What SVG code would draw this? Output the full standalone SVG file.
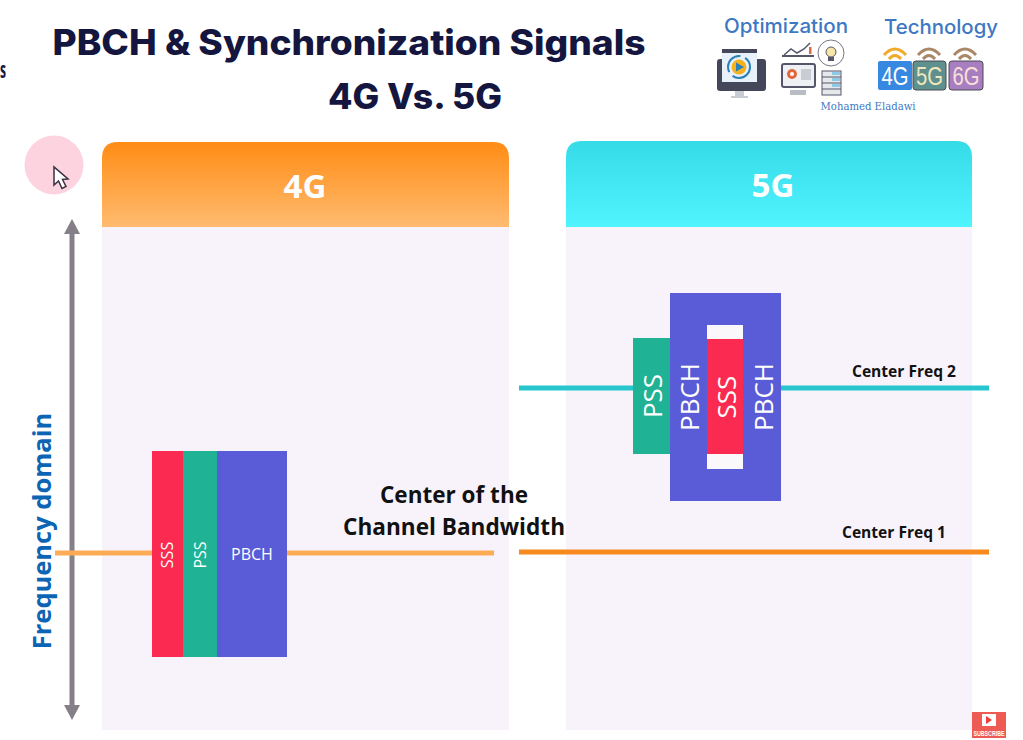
<svg xmlns="http://www.w3.org/2000/svg" width="1023" height="740" viewBox="0 0 1023 740">
<defs>
<linearGradient id="gOrange" x1="0" y1="0" x2="0" y2="1"><stop offset="0" stop-color="#ff8c14"/><stop offset="1" stop-color="#ffbb70"/></linearGradient>
<linearGradient id="gCyan" x1="0" y1="0" x2="0" y2="1"><stop offset="0" stop-color="#36dbe8"/><stop offset="1" stop-color="#4ff4ff"/></linearGradient>
<marker id="arrow" markerUnits="userSpaceOnUse" markerWidth="15" markerHeight="16" refX="1" refY="8" orient="auto-start-reverse"><path d="M0 0 L15 8 L0 16 Z" fill="#857f88"/></marker>
</defs>
<style>
text{font-family:"Open Sans","Noto Sans","DejaVu Sans",sans-serif}
.title{font-family:"Inter","Liberation Sans",sans-serif;font-size:35px;font-weight:800;fill:#15163f;text-anchor:middle}
.blue{font-family:"Inter","Liberation Sans",sans-serif;font-size:20px;font-weight:500;fill:#3d78c4;text-anchor:middle}
.head{font-size:33px;font-weight:700;fill:#fff;text-anchor:middle}
.white{fill:#fff;text-anchor:middle;font-weight:500}
.lab{font-size:16px;font-weight:700;fill:#111;text-anchor:middle}
.big{font-size:23px;font-weight:700;fill:#111;text-anchor:middle}
.panel{fill:#f8f3fa}
.line{fill:none;stroke-width:5}
.wifi{fill:none;stroke-width:3}
.gtxt{font-family:"Liberation Sans",sans-serif;font-size:25px;text-anchor:middle}
</style>
<rect width="1023" height="740" fill="#fff"/>
<g id="title">
<text class="title" x="349" y="55" textLength="593" lengthAdjust="spacingAndGlyphs">PBCH &amp; Synchronization Signals</text>
<text class="title" x="415" y="109" textLength="174" lengthAdjust="spacingAndGlyphs">4G Vs. 5G</text>
<text x="0" y="78" font-size="24" font-weight="700" fill="#15163f" textLength="6" lengthAdjust="spacingAndGlyphs">s</text>
</g>
<g id="logo">
<text class="blue" x="786" y="33" textLength="124" lengthAdjust="spacingAndGlyphs">Optimization</text>
<text class="blue" x="941" y="34" textLength="114" lengthAdjust="spacingAndGlyphs">Technology</text>
<text x="868" y="110" text-anchor="middle" font-size="11.5" fill="#3d78c4" textLength="95" lengthAdjust="spacingAndGlyphs" style="font-family:'DejaVu Serif',serif">Mohamed Eladawi</text>
<g id="icon-monitor">
<rect x="717" y="59" width="49" height="32" rx="3" fill="#44465a"/>
<rect x="722" y="49" width="35" height="33" fill="#e8f1fa"/>
<rect x="722" y="49" width="35" height="4" fill="#44465a"/>
<circle cx="739" cy="67" r="11" fill="none" stroke="#2a80b9" stroke-width="2" stroke-dasharray="24 5"/>
<circle cx="739" cy="67" r="7.500" fill="#f5b21d"/>
<path d="M736 62.500 L744 67 L736 71.500 Z" fill="#2a80b9"/>
<rect x="735" y="91" width="9" height="5" fill="#c8ccd4"/>
<rect x="731" y="96" width="17" height="2" fill="#c8ccd4"/>
</g>
<g id="icon-analytics">
<path d="M784 55 L791 49 L797 53 L804 49 L810 43" fill="none" stroke="#55566a" stroke-width="1.500"/>
<rect x="809" y="47" width="2.500" height="7" fill="#e2683c"/>
<rect x="782" y="55" width="32" height="2" fill="#55566a"/>
<circle cx="831" cy="53" r="13" fill="#fff" stroke="#777886"/>
<circle cx="831" cy="52" r="5" fill="#f6e6a8" stroke="#55566a"/>
<rect x="828" y="57" width="6" height="4" fill="#55566a"/>
<rect x="782" y="64" width="33" height="23" rx="2" fill="#eef0f3" stroke="#55566a" stroke-width="2"/>
<circle cx="792" cy="74" r="5" fill="#e2683c"/>
<circle cx="792" cy="74" r="2" fill="#fff"/>
<rect x="801" y="69" width="10" height="11" fill="#c9ccd3"/>
<rect x="790" y="90" width="16" height="5" fill="#b9bcc4"/>
<rect x="822" y="71" width="19" height="24" fill="#e6e8ec" stroke="#55566a"/>
<path d="M822 77 H841 M822 83 H841 M822 89 H841" stroke="#55566a"/>
<rect x="832" y="72" width="8" height="3" fill="#8ccbe6"/>
<rect x="832" y="78" width="8" height="3" fill="#8ccbe6"/>
<rect x="832" y="84" width="8" height="3" fill="#8ccbe6"/>
</g>
<g id="icon-4g">
<rect x="878" y="61" width="34" height="29" rx="2" fill="#3688e0"/>
<path class="wifi" stroke="#f0a92a" d="M884 55 Q895 43 906 55 M889 59 Q895 52 901 59"/>
<text class="gtxt" x="895" y="85" fill="#fff" textLength="27" lengthAdjust="spacingAndGlyphs">4G</text>
</g>
<g id="icon-5g">
<rect x="913" y="61" width="33" height="29" rx="3" fill="#5e918e" stroke="#4a4a55"/>
<path class="wifi" stroke="#a98767" d="M918 55 Q929 43 940 55 M923 59 Q929 52 935 59"/>
<text class="gtxt" x="929.500" y="85" fill="#f1e6bd" textLength="27" lengthAdjust="spacingAndGlyphs">5G</text>
</g>
<g id="icon-6g">
<rect x="949" y="61" width="34" height="29" rx="3" fill="#a77fc0" stroke="#4a4a55"/>
<path class="wifi" stroke="#a98767" d="M954 55 Q965 43 976 55 M959 59 Q965 52 971 59"/>
<text class="gtxt" x="966" y="85" fill="#f7dfd8" textLength="27" lengthAdjust="spacingAndGlyphs">6G</text>
</g>
</g>
<g id="cursor">
<circle cx="54" cy="165" r="29.500" fill="#fdd3e0"/>
<path d="M54 167 L54 185 L58.500 181 L62 188.500 L66 186.500 L62.500 179.500 L68 179 Z" fill="#fff" stroke="#3a3040" stroke-width="1.500"/>
</g>
<g id="panel-4g">
<rect class="panel" x="102" y="227" width="407" height="503"/>
<path d="M102 227 V158 Q102 142 118 142 H493 Q509 142 509 158 V227 Z" fill="url(#gOrange)"/>
<text class="head" x="305" y="198">4G</text>
</g>
<g id="panel-5g">
<rect class="panel" x="566" y="227" width="406" height="503"/>
<path d="M566 227 V157 Q566 141 582 141 H956 Q972 141 972 157 V227 Z" fill="url(#gCyan)"/>
<text class="head" x="773" y="197">5G</text>
</g>
<g id="connectors">
<line x1="72" y1="233" x2="72" y2="706" stroke="#857f88" stroke-width="5" marker-start="url(#arrow)" marker-end="url(#arrow)"/>
<line class="line" x1="55" y1="553" x2="494" y2="553" stroke="#fdab55"/>
<line class="line" x1="519" y1="552" x2="989" y2="552" stroke="#f78a1e"/>
<line class="line" x1="519" y1="388" x2="989" y2="388" stroke="#27c6cf"/>
</g>
<text id="axis-label" transform="translate(51 531) rotate(-90)" text-anchor="middle" font-size="25.500" font-weight="700" fill="#0b64b4">Frequency domain</text>
<g id="block-4g-sss">
<rect x="152" y="451" width="31" height="206" fill="#fb2a51"/>
<text class="white" transform="translate(173 555) rotate(-90)" font-size="16">SSS</text>
</g>
<g id="block-4g-pss">
<rect x="183" y="451" width="34" height="206" fill="#20b294"/>
<text class="white" transform="translate(206 555) rotate(-90)" font-size="16">PSS</text>
</g>
<g id="block-4g-pbch">
<rect x="217" y="451" width="70" height="206" fill="#5a5bd6"/>
<text class="white" x="252" y="560" font-size="16">PBCH</text>
</g>
<g id="block-5g-pss">
<rect x="633" y="338" width="38" height="116" fill="#20b294"/>
<text class="white" transform="translate(662 396) rotate(-90)" font-size="26">PSS</text>
</g>
<g id="block-5g-pbch">
<rect x="670" y="293" width="111" height="208" fill="#5a5bd6"/>
<text class="white" transform="translate(699 397) rotate(-90)" font-size="26">PBCH</text>
<text class="white" transform="translate(773 397) rotate(-90)" font-size="26">PBCH</text>
</g>
<g id="block-5g-sss">
<rect x="707" y="325" width="36" height="144" fill="#fbf8fb"/>
<rect x="707" y="339" width="36" height="115" fill="#fb2a51"/>
<text class="white" transform="translate(736 397) rotate(-90)" font-size="26">SSS</text>
</g>
<g id="labels">
<text class="big" x="454" y="503" textLength="148" lengthAdjust="spacingAndGlyphs">Center of the</text>
<text class="big" x="454" y="535" textLength="222" lengthAdjust="spacingAndGlyphs">Channel Bandwidth</text>
<text class="lab" x="904" y="377" textLength="104" lengthAdjust="spacingAndGlyphs">Center Freq 2</text>
<text class="lab" x="894" y="538" textLength="104" lengthAdjust="spacingAndGlyphs">Center Freq 1</text>
</g>
<g id="subscribe">
<rect x="972" y="712" width="34" height="26" fill="#ee5b55"/>
<rect x="982" y="714" width="14" height="12" fill="#fff"/>
<path d="M986 716 L992 720 L986 724 Z" fill="#ee3d35"/>
<text x="989" y="736" text-anchor="middle" font-size="8" font-weight="700" fill="#fff" textLength="31" lengthAdjust="spacingAndGlyphs" style="font-family:'Liberation Sans',sans-serif">SUBSCRIBE</text>
</g>
</svg>
